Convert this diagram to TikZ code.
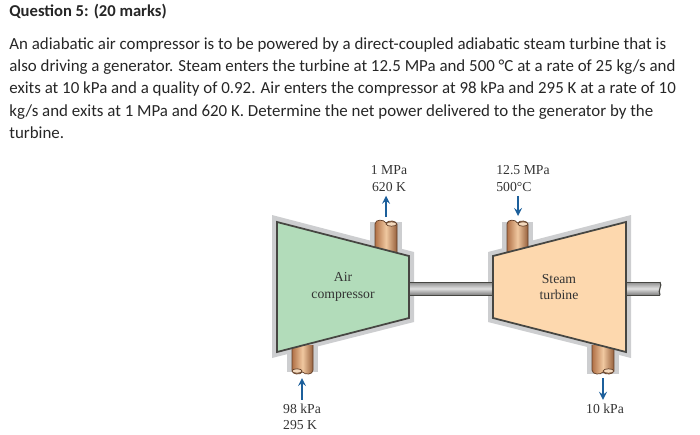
\documentclass[tikz,border=0pt]{standalone}
\usepackage{fontspec}
\setmainfont{Carlito}
\newfontfamily\figfont{Liberation Serif}
\definecolor{compgreen}{RGB}{178,220,186}
\definecolor{turborange}{RGB}{253,216,174}
\definecolor{arrowblue}{RGB}{28,95,155}
\definecolor{edgegray}{RGB}{70,70,66}
\definecolor{backgray}{RGB}{205,206,208}
\definecolor{copperdark}{RGB}{176,112,70}
\definecolor{copperlight}{RGB}{240,200,160}
\tikzset{
  bodytext/.style = {anchor = north west, align = left, inner sep = 0pt, font = \fontsize{9.62}{12.7}\selectfont, text = black!85},
  figlabel/.style = {align = center, inner sep = 0pt, outer sep = 2.5pt, font = \figfont\fontsize{7.8}{9.4}\selectfont, text = black!80},
  casing/.style = {draw = edgegray, line width = 1pt, line join = miter},
  backing/.style = {fill = backgray},
  flowarrow/.style = {->, draw = arrowblue, line width = 1pt},
  copper/.style = {left color = copperdark, right color = copperdark!85!black, middle color = copperlight},
  pipeline/.style = {draw = copperdark!55!black, line width = 0.4pt},
  pipeend/.style = {fill = copperlight!70!white, draw = copperdark!55!black, line width = 0.4pt}
}
\begin{document}
\begin{tikzpicture}[x = 0.02cm, y = -0.02cm, >= stealth]
        \useasboundingbox (0, 0) rectangle (700, 434);
        % question text
        \node[bodytext, font = \fontsize{9.45}{12}\selectfont\bfseries] (title) at (9, 4) {Question 5: (20 marks)};
        \node[bodytext] (question) at (9, 37) {An adiabatic air compressor is to be powered by a direct-coupled adiabatic steam turbine that is\\
          also driving a generator. Steam enters the turbine at 12.5 MPa and 500 °C at a rate of 25 kg/s and\\
          exits at 10 kPa and a quality of 0.92. Air enters the compressor at 98 kPa and 295 K at a rate of 10\\
          kg/s and exits at 1 MPa and 620 K. Determine the net power delivered to the generator by the\\
          turbine.};
        % grey backing
        \fill[backing] (272, 215) -- (414, 252) -- (414, 322) -- (272, 358) -- cycle;
        \fill[backing] (370, 222) rectangle (402, 256);
        \fill[backing] (287, 345) rectangle (318, 372);
        \fill[backing] (488, 252) -- (631, 215) -- (631, 358) -- (488, 322) -- cycle;
        \fill[backing] (502, 222) rectangle (533, 256);
        \fill[backing] (587, 345) rectangle (619, 374);
        % shaft
        \shade[top color = black!45, bottom color = black!50, middle color = black!12] (409, 282) rectangle (493, 295);
        \shade[top color = black!45, bottom color = black!50, middle color = black!12] (626, 282) rectangle (660, 295);
        \draw[edgegray, line width = 0.5pt] (409, 282) -- (493, 282) (409, 295) -- (493, 295) (626, 282) -- (660, 282) (626, 295) -- (660, 295);
        \draw[edgegray, line width = 0.6pt] (660, 282) .. controls (663, 286) and (657, 290) .. (660, 295);
        % pipes, upper ends
        \shade[copper] (375, 258) -- (375, 224) .. controls (375, 219) and (384, 219) .. (386, 223) .. controls (388, 220) and (397, 220) .. (397, 225) -- (397, 258) -- cycle;
        \draw[pipeline] (375, 258) -- (375, 224) .. controls (375, 219) and (384, 219) .. (386, 223) .. controls (388, 220) and (397, 220) .. (397, 225) -- (397, 258);
        \fill[pipeend] (391.5, 224) ellipse (5.5 and 2.2);
        \shade[copper] (507, 258) -- (507, 224) .. controls (507, 219) and (515.5, 219) .. (517.5, 223) .. controls (519.5, 220) and (528, 220) .. (528, 225) -- (528, 258) -- cycle;
        \draw[pipeline] (507, 258) -- (507, 224) .. controls (507, 219) and (515.5, 219) .. (517.5, 223) .. controls (519.5, 220) and (528, 220) .. (528, 225) -- (528, 258);
        \fill[pipeend] (523, 224) ellipse (5 and 2.2);
        % pipes, lower ends
        \shade[copper] (292, 345) -- (292, 370) .. controls (292, 375) and (300, 375) .. (302.5, 372) .. controls (305, 375) and (313, 375) .. (313, 370) -- (313, 345) -- cycle;
        \draw[pipeline] (292, 345) -- (292, 370) .. controls (292, 375) and (300, 375) .. (302.5, 372) .. controls (305, 375) and (313, 375) .. (313, 370) -- (313, 345);
        \fill[pipeend] (297, 371) ellipse (5 and 2.2);
        \shade[copper] (592, 345) -- (592, 370) .. controls (592, 375) and (601, 375) .. (603, 372) .. controls (605, 375) and (614, 375) .. (614, 370) -- (614, 345) -- cycle;
        \draw[pipeline] (592, 345) -- (592, 370) .. controls (592, 375) and (601, 375) .. (603, 372) .. controls (605, 375) and (614, 375) .. (614, 370) -- (614, 345);
        \fill[pipeend] (608.5, 371) ellipse (5.5 and 2.2);
        % compressor and turbine
        \draw[casing, fill = compgreen] (277, 222) -- (409, 256) -- (409, 318) -- (277, 352) -- cycle;
        \draw[casing, fill = turborange] (493, 256) -- (626, 222) -- (626, 352) -- (493, 318) -- cycle;
        \node[figlabel] (comp) at (343, 287) {Air\\compressor};
        \node[figlabel] (turb) at (559, 287) {Steam\\turbine};
        % states
        \node[figlabel] (compout) at (389, 178.5) {1 MPa\\620 K};
        \node[figlabel, align = left] (turbin) at (523, 178.5) {12.5 MPa\\500°C};
        \node[figlabel, align = left] (compin) at (302, 417) {98 kPa\\295 K};
        \node[figlabel] (turbout) at (605, 409) {10 kPa};
        \coordinate (compouttip) at (386, 217);
        \coordinate (turbintip) at (518, 216);
        \coordinate (compintip) at (302, 378);
        \coordinate (turbouttip) at (603, 378);
        \draw[flowarrow] (compouttip) -- (compouttip |- compout.south);
        \draw[flowarrow] (turbintip |- turbin.south) -- (turbintip);
        \draw[flowarrow] (compintip |- compin.north) -- (compintip);
        \draw[flowarrow] (turbouttip) -- (turbouttip |- turbout.north);
      \end{tikzpicture}
\end{document}
